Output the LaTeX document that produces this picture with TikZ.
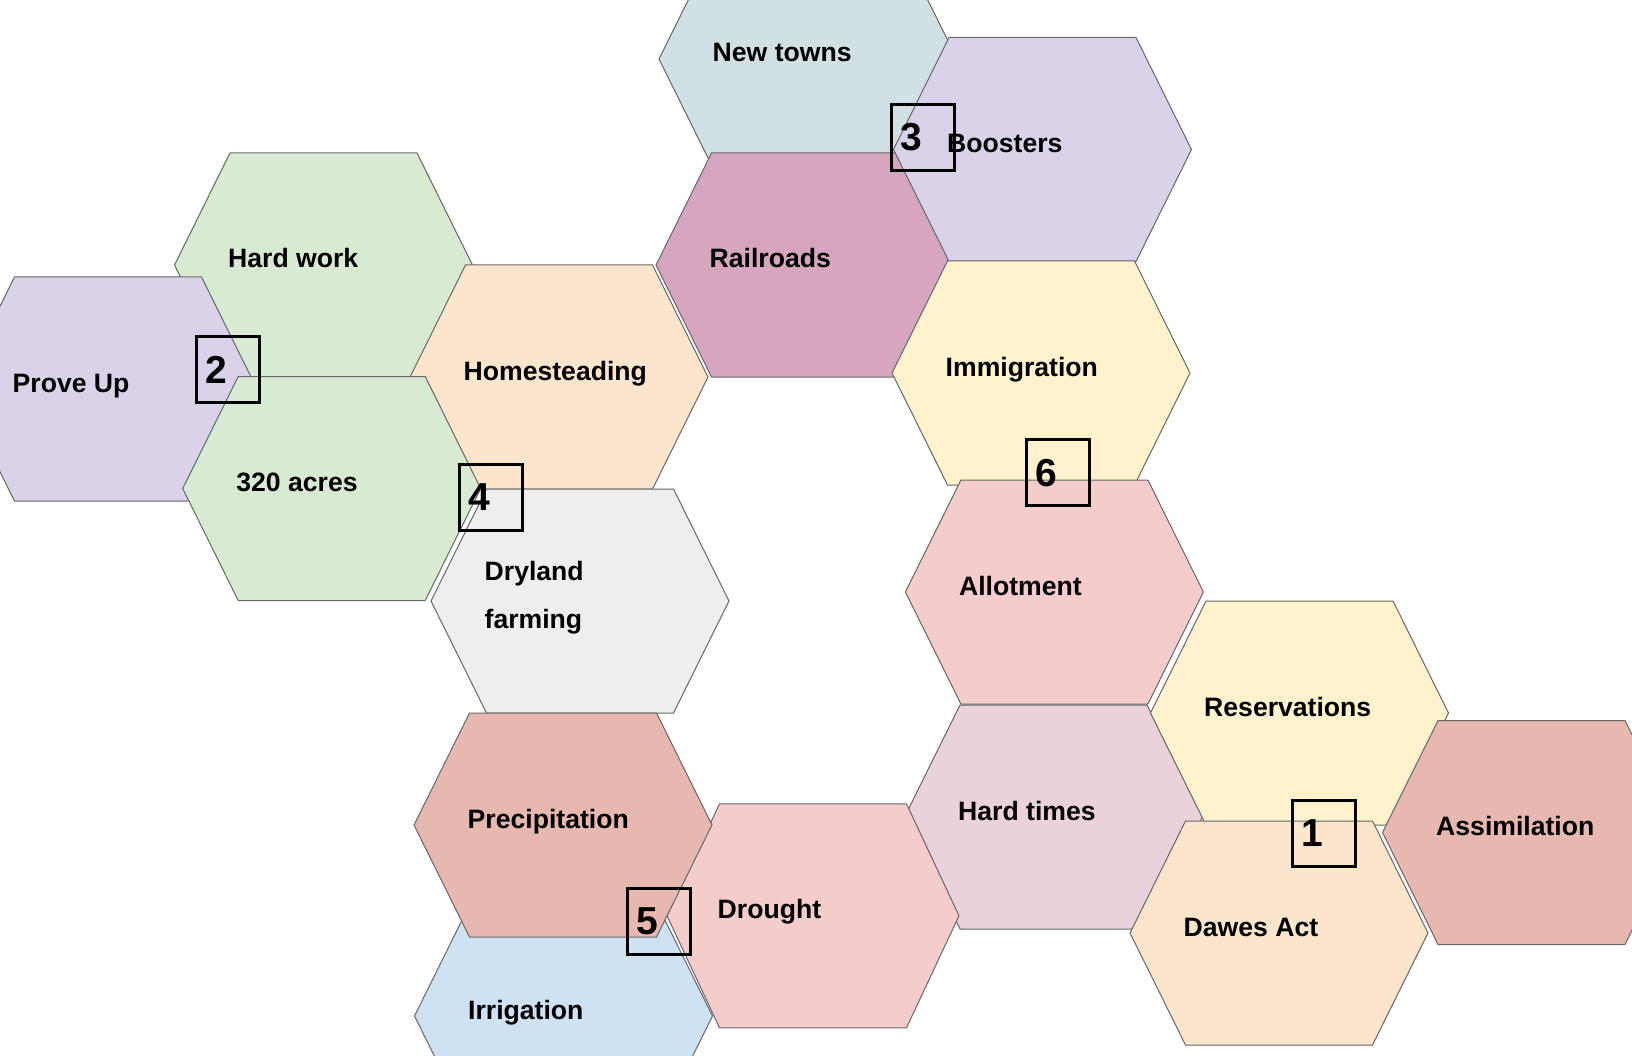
\documentclass[tikz,border=0pt]{standalone}
\usepackage{fontspec}
\setmainfont{Liberation Sans}
\definecolor{hexgray}{HTML}{666666}
\definecolor{cTeal}{HTML}{D0E0E3}
\definecolor{cPurple}{HTML}{D9D2E9}
\definecolor{cMagenta}{HTML}{D5A6BD}
\definecolor{cYellow}{HTML}{FFF2CC}
\definecolor{cGreen}{HTML}{D9EAD3}
\definecolor{cOrange}{HTML}{FCE5CD}
\definecolor{cGray}{HTML}{EEEEEE}
\definecolor{cBerry}{HTML}{E6B8AF}
\definecolor{cBlue}{HTML}{CFE2F3}
\definecolor{cRed}{HTML}{F4CCCC}
\definecolor{cPink}{HTML}{EAD1DC}
\newcommand{\hexfont}{\fontsize{26.6}{31}\selectfont\bfseries}
\newcommand{\numfont}{\fontsize{39}{44}\selectfont\bfseries}
\tikzset{
  hexline/.style={draw=hexgray, line width=1pt, line join=miter},
  hexlabel/.style={anchor=base west, inner sep=0pt, font=\hexfont},
  numbox/.style={draw=black, line width=3pt, inner xsep=9pt, inner ysep=0pt,
    minimum height=66pt, font=\numfont}
}
% [#1 half width], #2 name, #3 cx, #4 cy, #5 fill, #6 text
\newcommand{\hexcell}[6][149]{%
  \begin{scope}[shift={(#3,#4)}]
    \path[hexline, fill=#5] (-#1,0) -- (-93.5,-112) -- (93.5,-112) -- (#1,0)
      -- (93.5,112) -- (-93.5,112) -- cycle;
    \node[hexlabel] (#2) at (-95.5,3) {#6};
  \end{scope}}
\begin{document}
\begin{tikzpicture}[x=1pt, y=-1pt]
  \useasboundingbox (0,0) rectangle (1632,1056);
  \clip (0,0) rectangle (1632,1056);
  % top cluster
  \hexcell{newtowns}{808}{59}{cTeal}{New towns}
  \hexcell{railroads}{805}{265}{cMagenta}{Railroads}
  \hexcell{boosters}{1042.5}{149.5}{cPurple}{Boosters}
  % left cluster
  \hexcell{hardwork}{323.5}{265}{cGreen}{Hard work}
  \hexcell{homesteading}{559}{377}{cOrange}{Homesteading}
  \hexcell{proveup}{108}{389}{cPurple}{Prove Up}
  \hexcell{acres}{331.7}{488.5}{cGreen}{320 acres}
  \begin{scope}[shift={(580,601)}]
    \path[hexline, fill=cGray] (-149,0) -- (-93.5,-112) -- (93.5,-112) -- (149,0)
      -- (93.5,112) -- (-93.5,112) -- cycle;
    \node[hexlabel] (dryland) at (-95.5,-20.5)
      {\vtop{\baselineskip=47.7pt\hbox{Dryland}\hbox{farming}}};
  \end{scope}
  % right cluster
  \hexcell{immigration}{1041}{373}{cYellow}{Immigration}
  \hexcell{allotment}{1054.4}{592}{cRed}{Allotment}
  \hexcell{hardtimes}{1053.5}{817}{cPink}{Hard times}
  \hexcell{reservations}{1299.5}{713}{cYellow}{Reservations}
  \hexcell{dawes}{1279}{933}{cOrange}{Dawes Act}
  \hexcell{assimilation}{1531.5}{832.5}{cBerry}{Assimilation}
  % bottom cluster
  \hexcell{irrigation}{563.5}{1016}{cBlue}{Irrigation}
  \hexcell[146]{drought}{813}{915.8}{cRed}{Drought}
  \hexcell{precipitation}{563}{825}{cBerry}{Precipitation}
  % numbered boxes
  \node[numbox] (n1) at (1323.6,833) {\makebox[45pt][l]{1}};
  \node[numbox] (n2) at (227.5,369.7) {\makebox[45pt][l]{2}};
  \node[numbox] (n3) at (922.6,137.5) {\makebox[45pt][l]{3}};
  \node[numbox] (n4) at (490.5,497) {\makebox[45pt][l]{4}};
  \node[numbox] (n5) at (659.4,921.6) {\makebox[45pt][l]{5}};
  \node[numbox] (n6) at (1058,472.7) {\makebox[45pt][l]{6}};
\end{tikzpicture}
\end{document}
